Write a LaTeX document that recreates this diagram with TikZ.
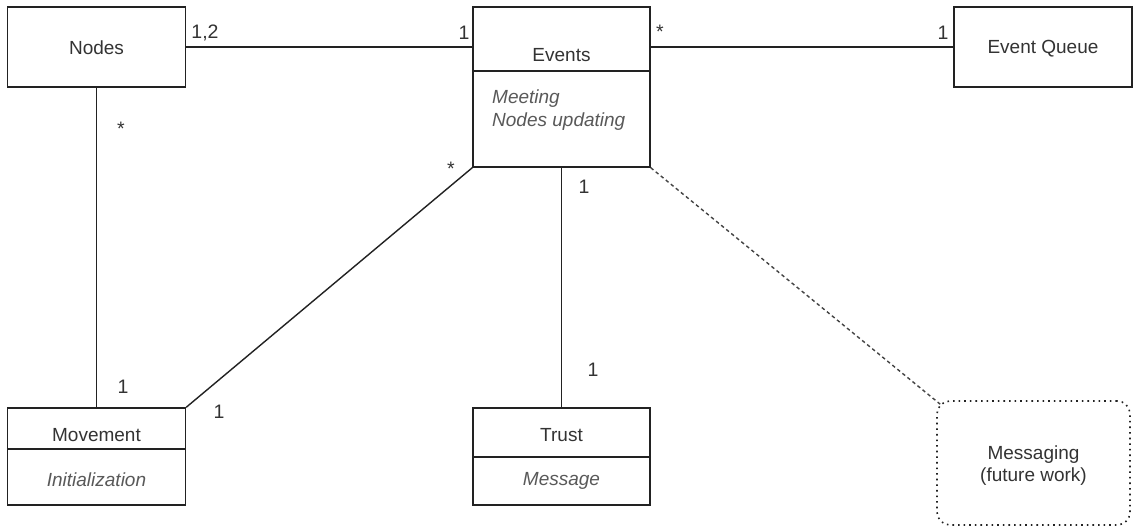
\documentclass[tikz,border=0pt]{standalone}
\usepackage{fontspec}
\setmainfont{Liberation Sans}
\usetikzlibrary{calc}
\definecolor{ln}{HTML}{222222}
\definecolor{tx}{HTML}{333333}
\definecolor{itx}{HTML}{595959}
\begin{document}
\begin{tikzpicture}[x=1pt,y=-1pt,
  box/.style={draw=ln, line width=1.4pt, rectangle, inner sep=0pt},
  lbl/.style={text=tx, font=\fontsize{19}{22}\selectfont, inner sep=0pt},
  ilbl/.style={text=itx, font=\fontsize{19}{23}\selectfont\itshape, inner sep=0pt},
  mult/.style={text=tx, font=\fontsize{19.5}{22}\selectfont, inner sep=0pt},
  conn/.style={draw=ln, line width=1.4pt},
  dconn/.style={draw=ln!85, line width=1.4pt, dash pattern=on 3.5pt off 3pt},
]
\useasboundingbox (0,0) rectangle (1135,527);
\fill[white] (0,0) rectangle (1135,527);

% boxes
\node[box, minimum width=178pt, minimum height=80pt] (nodes) at (96.5,47) {};
\node[lbl] (nodest) at (96.5,48) {Nodes};

\node[box, minimum width=177pt, minimum height=160pt] (evt) at (561.5,87) {};
\draw[conn] (evt.west |- 0,71) coordinate (evtdl) -- (evt.east |- 0,71) coordinate (evtdr);
\node[lbl] (evtt) at (561.5,55) {Events};
\node[ilbl, anchor=north west, align=left] (evta) at (492,90) {Meeting\\Nodes updating};

\node[box, minimum width=178pt, minimum height=80pt] (eq) at (1043,47) {};
\node[lbl] (eqt) at (1043,49) {Event Queue};

\node[box, minimum width=178pt, minimum height=97pt] (mov) at (96.5,456.5) {};
\draw[conn] (mov.west |- 0,449) coordinate (movdl) -- (mov.east |- 0,449) coordinate (movdr);
\node[lbl] (movt) at (96.5,435) {Movement};
\node[ilbl] (mova) at (96.5,480) {Initialization};

\node[box, minimum width=177pt, minimum height=97pt] (trust) at (561.5,456.5) {};
\draw[conn] (trust.west |- 0,457) coordinate (trdl) -- (trust.east |- 0,457) coordinate (trdr);
\node[lbl] (trt) at (561.5,435) {Trust};
\node[ilbl] (tra) at (561.5,481) {Message};

\node[draw=ln, line width=1.6pt, dash pattern=on 1.6pt off 4pt, rounded corners=13pt,
  minimum width=193pt, minimum height=124pt, inner sep=0pt] (msg) at (1033.5,463) {};
\node[lbl, align=center, text=tx] (msgt) at (1033.5,466) {Messaging\\(future work)};
\coordinate (msgc) at ($(msg.north west)+(4,4)$);

% connectors
\draw[conn] (nodes.east) -- (nodes.east -| evt.west);
\draw[conn] (eq.west -| evt.east) -- (eq.west);
\draw[conn] (nodes.south) -- (mov.north);
\draw[conn] (evt.south west) -- (mov.north east);
\draw[conn] (evt.south) -- (trust.north);
\draw[dconn] (evt.south east) -- (msgc);

% multiplicities
\node[mult] (m1) at (205,33) {1,2};
\node[mult] (m2) at (464,33) {1};
\node[mult] (m3) at (660,32) {*};
\node[mult] (m4) at (943,33) {1};
\node[mult] (m5) at (121,129) {*};
\node[mult] (m6) at (123,387) {1};
\node[mult] (m7) at (451,169) {*};
\node[mult] (m8) at (219,412) {1};
\node[mult] (m9) at (584,187) {1};
\node[mult] (m10) at (593,370) {1};
\end{tikzpicture}
\end{document}
